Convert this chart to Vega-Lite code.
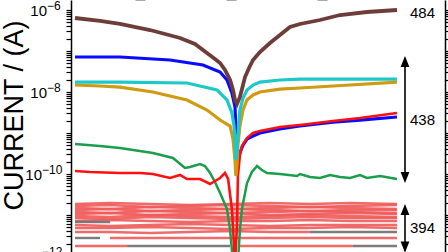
{
  "$schema": "https://vega.github.io/schema/vega-lite/v6.json",
  "width": 374,
  "height": 268,
  "autosize": {"type": "none"},
  "padding": {"left": 71, "top": 0, "right": 3, "bottom": 0},
  "background": "white",
  "config": {"view": {"stroke": null}, "font": "Liberation Sans"},
  "datasets": {
    "noise": [
      {"s":"n1","kind":"red","V":-0.857,"I":1.85e-11},{"s":"n1","kind":"red","V":-0.665,"I":1.96e-11},{"s":"n1","kind":"red","V":-0.445,"I":1.85e-11},{"s":"n1","kind":"red","V":-0.225,"I":1.75e-11},{"s":"n1","kind":"red","V":-0.005,"I":1.85e-11},{"s":"n1","kind":"red","V":0.214,"I":1.96e-11},{"s":"n1","kind":"red","V":0.434,"I":1.85e-11},{"s":"n1","kind":"red","V":0.654,"I":1.96e-11},{"s":"n1","kind":"red","V":0.912,"I":1.85e-11},
      {"s":"n2","kind":"red","V":-0.857,"I":1.66e-11},{"s":"n2","kind":"red","V":-0.665,"I":1.75e-11},{"s":"n2","kind":"red","V":-0.445,"I":1.57e-11},{"s":"n2","kind":"red","V":-0.225,"I":1.66e-11},{"s":"n2","kind":"red","V":-0.005,"I":1.75e-11},{"s":"n2","kind":"red","V":0.214,"I":1.66e-11},{"s":"n2","kind":"red","V":0.434,"I":1.57e-11},{"s":"n2","kind":"red","V":0.654,"I":1.66e-11},{"s":"n2","kind":"red","V":0.912,"I":1.75e-11},
      {"s":"n3","kind":"red","V":-0.857,"I":1.48e-11},{"s":"n3","kind":"red","V":-0.665,"I":1.40e-11},{"s":"n3","kind":"red","V":-0.445,"I":1.57e-11},{"s":"n3","kind":"red","V":-0.225,"I":1.48e-11},{"s":"n3","kind":"red","V":-0.005,"I":1.40e-11},{"s":"n3","kind":"red","V":0.214,"I":1.48e-11},{"s":"n3","kind":"red","V":0.434,"I":1.57e-11},{"s":"n3","kind":"red","V":0.654,"I":1.48e-11},{"s":"n3","kind":"red","V":0.912,"I":1.40e-11},
      {"s":"n4","kind":"red","V":-0.857,"I":1.32e-11},{"s":"n4","kind":"red","V":-0.665,"I":1.40e-11},{"s":"n4","kind":"red","V":-0.445,"I":1.25e-11},{"s":"n4","kind":"red","V":-0.225,"I":1.32e-11},{"s":"n4","kind":"red","V":-0.005,"I":1.40e-11},{"s":"n4","kind":"red","V":0.214,"I":1.32e-11},{"s":"n4","kind":"red","V":0.434,"I":1.25e-11},{"s":"n4","kind":"red","V":0.654,"I":1.32e-11},{"s":"n4","kind":"red","V":0.912,"I":1.32e-11},
      {"s":"n5","kind":"red","V":-0.857,"I":1.18e-11},{"s":"n5","kind":"red","V":-0.665,"I":1.12e-11},{"s":"n5","kind":"red","V":-0.445,"I":1.25e-11},{"s":"n5","kind":"red","V":-0.225,"I":1.18e-11},{"s":"n5","kind":"red","V":-0.005,"I":1.12e-11},{"s":"n5","kind":"red","V":0.214,"I":1.18e-11},{"s":"n5","kind":"red","V":0.434,"I":1.25e-11},{"s":"n5","kind":"red","V":0.654,"I":1.18e-11},{"s":"n5","kind":"red","V":0.912,"I":1.12e-11},
      {"s":"n6","kind":"red","V":-0.857,"I":1.06e-11},{"s":"n6","kind":"red","V":-0.665,"I":1.12e-11},{"s":"n6","kind":"red","V":-0.445,"I":1.0e-11},{"s":"n6","kind":"red","V":-0.225,"I":1.06e-11},{"s":"n6","kind":"red","V":-0.005,"I":1.12e-11},{"s":"n6","kind":"red","V":0.214,"I":1.0e-11},{"s":"n6","kind":"red","V":0.434,"I":1.06e-11},{"s":"n6","kind":"red","V":0.654,"I":1.12e-11},{"s":"n6","kind":"red","V":0.912,"I":1.06e-11},
      {"s":"n7","kind":"red","V":-0.857,"I":9.46e-12},{"s":"n7","kind":"red","V":-0.665,"I":8.94e-12},{"s":"n7","kind":"red","V":-0.445,"I":1.0e-11},{"s":"n7","kind":"red","V":-0.225,"I":9.46e-12},{"s":"n7","kind":"red","V":-0.005,"I":8.94e-12},{"s":"n7","kind":"red","V":0.214,"I":9.46e-12},{"s":"n7","kind":"red","V":0.434,"I":1.0e-11},{"s":"n7","kind":"red","V":0.654,"I":9.46e-12},{"s":"n7","kind":"red","V":0.912,"I":8.94e-12},
      {"s":"n8","kind":"red","V":-0.857,"I":8.45e-12},{"s":"n8","kind":"red","V":-0.665,"I":7.98e-12},{"s":"n8","kind":"red","V":-0.445,"I":8.94e-12},{"s":"n8","kind":"red","V":-0.225,"I":8.45e-12},{"s":"n8","kind":"red","V":-0.005,"I":7.98e-12},{"s":"n8","kind":"red","V":0.214,"I":8.45e-12},{"s":"n8","kind":"red","V":0.434,"I":8.94e-12},{"s":"n8","kind":"red","V":0.654,"I":8.45e-12},{"s":"n8","kind":"red","V":0.912,"I":8.45e-12},
      {"s":"n9","kind":"red","V":-0.857,"I":7.14e-12},{"s":"n9","kind":"red","V":-0.665,"I":7.55e-12},{"s":"n9","kind":"red","V":-0.445,"I":7.14e-12},{"s":"n9","kind":"red","V":-0.225,"I":6.75e-12},{"s":"n9","kind":"red","V":-0.005,"I":7.14e-12},{"s":"n9","kind":"red","V":0.214,"I":7.14e-12},{"s":"n9","kind":"red","V":0.434,"I":7.55e-12},{"s":"n9","kind":"red","V":0.654,"I":7.14e-12},{"s":"n9","kind":"red","V":0.912,"I":7.14e-12},
      {"s":"n10","kind":"red","V":-0.857,"I":5.70e-12},{"s":"n10","kind":"red","V":-0.665,"I":5.40e-12},{"s":"n10","kind":"red","V":-0.445,"I":5.70e-12},{"s":"n10","kind":"red","V":-0.225,"I":6.03e-12},{"s":"n10","kind":"red","V":-0.005,"I":5.70e-12},{"s":"n10","kind":"red","V":0.214,"I":5.40e-12},{"s":"n10","kind":"red","V":0.434,"I":5.70e-12},{"s":"n10","kind":"red","V":0.654,"I":5.70e-12},{"s":"n10","kind":"red","V":0.912,"I":5.70e-12},
      {"s":"n11","kind":"red","V":-0.857,"I":4.82e-12},{"s":"n11","kind":"red","V":-0.665,"I":4.82e-12},{"s":"n11","kind":"red","V":-0.445,"I":5.09e-12},{"s":"n11","kind":"red","V":-0.225,"I":4.82e-12},{"s":"n11","kind":"red","V":-0.005,"I":4.56e-12},{"s":"n11","kind":"red","V":0.214,"I":4.82e-12},{"s":"n11","kind":"red","V":0.434,"I":4.82e-12},{"s":"n11","kind":"red","V":0.654,"I":5.09e-12},{"s":"n11","kind":"red","V":0.912,"I":4.82e-12},
      {"s":"n12","kind":"red","V":-0.857,"I":3.85e-12},{"s":"n12","kind":"red","V":-0.665,"I":3.85e-12},{"s":"n12","kind":"red","V":-0.445,"I":3.64e-12},{"s":"n12","kind":"red","V":-0.225,"I":3.85e-12},{"s":"n12","kind":"red","V":-0.005,"I":4.07e-12},{"s":"n12","kind":"red","V":0.214,"I":3.85e-12},{"s":"n12","kind":"red","V":0.434,"I":3.85e-12},
      {"s":"g2","kind":"grey","V":0.434,"I":3.85e-12},{"s":"g2","kind":"grey","V":0.654,"I":3.85e-12},{"s":"g2","kind":"grey","V":0.912,"I":3.85e-12},
      {"s":"g1","kind":"grey","V":-0.857,"I":6.75e-12},{"s":"g1","kind":"grey","V":-0.665,"I":6.75e-12},
      {"s":"n13","kind":"red","V":-0.665,"I":2.75e-12},{"s":"n13","kind":"red","V":-0.225,"I":2.75e-12},{"s":"n13","kind":"red","V":0.214,"I":2.75e-12},{"s":"n13","kind":"red","V":0.912,"I":2.75e-12},
      {"s":"g3","kind":"grey","V":-0.857,"I":2.75e-12},{"s":"g3","kind":"grey","V":-0.720,"I":2.75e-12},
      {"s":"n14","kind":"red","V":-0.857,"I":1.75e-12},{"s":"n14","kind":"red","V":-0.571,"I":1.75e-12},
      {"s":"g4","kind":"grey","V":-0.571,"I":1.75e-12},{"s":"g4","kind":"grey","V":-0.225,"I":1.75e-12},{"s":"g4","kind":"grey","V":-0.005,"I":1.75e-12},
      {"s":"n15","kind":"red","V":0.049,"I":1.75e-12},{"s":"n15","kind":"red","V":0.434,"I":1.75e-12},{"s":"n15","kind":"red","V":0.670,"I":1.75e-12},
      {"s":"g5","kind":"grey","V":0.670,"I":1.75e-12},{"s":"g5","kind":"grey","V":0.912,"I":1.75e-12}
    ],
    "green": [
      {"V":-0.857,"I":5.40e-10},{"V":-0.720,"I":4.82e-10},{"V":-0.610,"I":4.31e-10},{"V":-0.429,"I":3.25e-10},{"V":-0.319,"I":2.46e-10},{"V":-0.253,"I":1.40e-10},{"V":-0.225,"I":1.48e-10},{"V":-0.170,"I":1.75e-10},{"V":-0.143,"I":1.57e-10},{"V":-0.115,"I":1.06e-10},{"V":-0.088,"I":6.38e-11},{"V":-0.060,"I":3.44e-11},{"V":-0.022,"I":1.40e-11},{"V":-0.005,"I":4.31e-12},{"V":0.011,"I":7.14e-13},{"V":0.027,"I":6.03e-13},{"V":0.038,"I":7.14e-13},{"V":0.049,"I":4.31e-12},{"V":0.060,"I":1.40e-11},{"V":0.088,"I":6.03e-11},{"V":0.115,"I":1.12e-10},{"V":0.143,"I":1.57e-10},{"V":0.170,"I":1.25e-10},{"V":0.198,"I":1.06e-10},{"V":0.269,"I":1.0e-10},{"V":0.363,"I":8.94e-11},{"V":0.379,"I":1.0e-10},{"V":0.434,"I":8.45e-11},{"V":0.489,"I":7.98e-11},{"V":0.544,"I":9.46e-11},{"V":0.599,"I":8.45e-11},{"V":0.654,"I":7.98e-11},{"V":0.709,"I":9.46e-11},{"V":0.747,"I":7.98e-11},{"V":0.819,"I":8.94e-11},{"V":0.912,"I":7.55e-11}
    ],
    "blue": [
      {"V":-0.857,"I":7.14e-8},{"V":-0.610,"I":7.14e-8},{"V":-0.335,"I":6.03e-8},{"V":-0.154,"I":4.56e-8},{"V":-0.060,"I":3.08e-8},{"V":-0.022,"I":1.96e-8},{"V":0.005,"I":9.46e-9},{"V":0.022,"I":4.31e-9},{"V":0.027,"I":1.18e-9},{"V":0.033,"I":1.66e-10},{"V":0.038,"I":2.19e-10},{"V":0.049,"I":3.25e-10},{"V":0.066,"I":5.09e-10},{"V":0.088,"I":7.14e-10},{"V":0.121,"I":8.45e-10},{"V":0.159,"I":1.0e-9},{"V":0.269,"I":1.25e-9},{"V":0.379,"I":1.48e-9},{"V":0.560,"I":1.85e-9},{"V":0.709,"I":2.07e-9},{"V":0.912,"I":2.46e-9}
    ],
    "red": [
      {"V":-0.857,"I":1.18e-10},{"V":-0.775,"I":1.12e-10},{"V":-0.610,"I":1.06e-10},{"V":-0.500,"I":1.06e-10},{"V":-0.429,"I":1.0e-10},{"V":-0.335,"I":7.98e-11},{"V":-0.280,"I":9.46e-11},{"V":-0.242,"I":7.55e-11},{"V":-0.170,"I":7.55e-11},{"V":-0.115,"I":5.70e-11},{"V":-0.088,"I":6.75e-11},{"V":-0.060,"I":7.98e-11},{"V":-0.033,"I":1.06e-10},{"V":-0.016,"I":7.55e-11},{"V":0.005,"I":1.40e-11},{"V":0.022,"I":7.14e-13},{"V":0.033,"I":5.40e-12},{"V":0.038,"I":8.94e-11},{"V":0.049,"I":2.90e-10},{"V":0.060,"I":4.82e-10},{"V":0.088,"I":7.55e-10},{"V":0.121,"I":1.0e-9},{"V":0.159,"I":1.12e-9},{"V":0.269,"I":1.40e-9},{"V":0.379,"I":1.57e-9},{"V":0.560,"I":1.96e-9},{"V":0.709,"I":2.32e-9},{"V":0.912,"I":3.08e-9}
    ],
    "gold": [
      {"V":-0.857,"I":1.48e-8},{"V":-0.720,"I":1.40e-8},{"V":-0.610,"I":1.32e-8},{"V":-0.429,"I":1.0e-8},{"V":-0.242,"I":6.38e-9},{"V":-0.132,"I":3.64e-9},{"V":-0.060,"I":2.07e-9},{"V":-0.005,"I":1.48e-9},{"V":0.011,"I":7.14e-10},{"V":0.022,"I":2.19e-10},{"V":0.027,"I":8.94e-11},{"V":0.033,"I":1.66e-10},{"V":0.038,"I":5.09e-10},{"V":0.049,"I":1.48e-9},{"V":0.066,"I":3.64e-9},{"V":0.088,"I":6.38e-9},{"V":0.121,"I":8.45e-9},{"V":0.159,"I":1.0e-8},{"V":0.269,"I":1.18e-8},{"V":0.379,"I":1.25e-8},{"V":0.654,"I":1.48e-8},{"V":0.912,"I":1.75e-8}
    ],
    "cyan": [
      {"V":-0.857,"I":1.75e-8},{"V":-0.610,"I":1.75e-8},{"V":-0.242,"I":1.66e-8},{"V":-0.077,"I":1.12e-8},{"V":-0.022,"I":6.38e-9},{"V":0.005,"I":3.08e-9},{"V":0.016,"I":1.57e-9},{"V":0.022,"I":6.75e-10},{"V":0.027,"I":2.19e-10},{"V":0.033,"I":3.85e-10},{"V":0.038,"I":8.94e-10},{"V":0.049,"I":3.64e-9},{"V":0.066,"I":7.14e-9},{"V":0.088,"I":1.12e-8},{"V":0.121,"I":1.48e-8},{"V":0.159,"I":1.75e-8},{"V":0.269,"I":1.96e-8},{"V":0.379,"I":2.07e-8},{"V":0.912,"I":2.07e-8}
    ],
    "brown": [
      {"V":-0.857,"I":6.38e-7},{"V":-0.720,"I":5.40e-7},{"V":-0.610,"I":4.56e-7},{"V":-0.445,"I":3.25e-7},{"V":-0.280,"I":2.08e-7},{"V":-0.198,"I":1.48e-7},{"V":-0.132,"I":8.93e-8},{"V":-0.088,"I":6.38e-8},{"V":-0.060,"I":5.09e-8},{"V":-0.033,"I":3.44e-8},{"V":-0.005,"I":1.96e-8},{"V":0.011,"I":1.12e-8},{"V":0.022,"I":6.38e-9},{"V":0.033,"I":5.09e-9},{"V":0.049,"I":7.55e-9},{"V":0.066,"I":1.48e-8},{"V":0.077,"I":2.32e-8},{"V":0.099,"I":3.85e-8},{"V":0.121,"I":6.03e-8},{"V":0.159,"I":9.46e-8},{"V":0.214,"I":1.57e-7},{"V":0.269,"I":2.46e-7},{"V":0.324,"I":3.85e-7},{"V":0.379,"I":4.56e-7},{"V":0.489,"I":5.70e-7},{"V":0.599,"I":7.55e-7},{"V":0.747,"I":8.94e-7},{"V":0.912,"I":1.0e-6}
    ],
    "shafts": [
      {"V":0.956,"I":5.40e-8,"I2":8.45e-11},
      {"V":0.956,"I":1.36e-11,"I2":1.3e-12}
    ],
    "heads": [
      {"V":0.956,"I":5.55e-8,"dir":"up"},
      {"V":0.956,"I":8.22e-11,"dir":"down"},
      {"V":0.956,"I":1.36e-11,"dir":"up"},
      {"V":0.956,"I":1.66e-12,"dir":"down"}
    ],
    "labels": [
      {"V":1.052,"I":8.45e-7,"label":"484"},
      {"V":1.052,"I":2.02e-9,"label":"438"},
      {"V":1.052,"I":4.69e-12,"label":"394"}
    ],
    "ticklabels": [
      {"V":-1.011,"I":1e-6,"base":"10","exp":"−6"},
      {"V":-1.011,"I":1e-8,"base":"10","exp":"−8"},
      {"V":-1.011,"I":1e-10,"base":"10","exp":"−10"},
      {"V":-1.011,"I":1e-12,"base":"10","exp":"−12"}
    ]
  },
  "layer": [
    {
      "data": {"name": "noise"},
      "mark": {"type": "line", "strokeWidth": 2.4, "opacity": 0.9, "clip": true},
      "encoding": {
        "x": {"field": "V", "type": "quantitative",
              "scale": {"domain": [-0.8791, 1.1758], "nice": false, "zero": false},
              "axis": {"orient": "top", "title": null, "labels": false, "domain": false, "grid": false,
                       "values": [-0.5, 0, 0.5], "tickColor": "#555555", "tickWidth": 10, "tickSize": 3,
                       "encode": {"ticks": {"y2": {"value": 2.5}}}}},
        "y": {"field": "I", "type": "quantitative",
              "scale": {"type": "log", "domain": [5.097e-13, 1.7536e-6], "nice": false},
              "axis": {"orient": "left", "grid": false, "labels": false,
                       "values": [1e-12,2e-12,3e-12,4e-12,5e-12,6e-12,7e-12,8e-12,9e-12,1e-11,2e-11,3e-11,4e-11,5e-11,6e-11,7e-11,8e-11,9e-11,1e-10,2e-10,3e-10,4e-10,5e-10,6e-10,7e-10,8e-10,9e-10,1e-9,2e-9,3e-9,4e-9,5e-9,6e-9,7e-9,8e-9,9e-9,1e-8,2e-8,3e-8,4e-8,5e-8,6e-8,7e-8,8e-8,9e-8,1e-7,2e-7,3e-7,4e-7,5e-7,6e-7,7e-7,8e-7,9e-7,1e-6],
                       "tickColor": "black", "tickWidth": 1.2, "tickSize": 5,
                       "encode": {
                         "ticks": {"x2": {"condition": {"test": "abs(log(datum.value)/LN10 - round(log(datum.value)/LN10)) < 0.001", "value": -5}, "value": -2.5}}
                       },
                       "domainColor": "black", "domainWidth": 1.5,
                       "title": "CURRENT / (A)", "titleFont": "Liberation Sans", "titleFontSize": 27, "titleFontWeight": "normal",
                       "titleColor": "black", "titleX": -57, "titleY": 115, "titleAngle": -90, "titleAlign": "center", "titleBaseline": "middle"}},
        "detail": {"field": "s", "type": "nominal"},
        "color": {"field": "kind", "type": "nominal", "scale": {"domain": ["red", "grey"], "range": ["#f05a5a", "#6e6e6e"]}, "legend": null}
      }
    },
    {
      "data": {"name": "green"},
      "mark": {"type": "line", "strokeWidth": 2.5, "color": "#1a9e4c", "clip": true},
      "encoding": {"x": {"field": "V", "type": "quantitative"}, "y": {"field": "I", "type": "quantitative", "axis": null}}
    },
    {
      "data": {"name": "blue"},
      "mark": {"type": "line", "strokeWidth": 3.2, "color": "#0a0aff", "clip": true},
      "encoding": {"x": {"field": "V", "type": "quantitative"}, "y": {"field": "I", "type": "quantitative", "axis": null}}
    },
    {
      "data": {"name": "red"},
      "mark": {"type": "line", "strokeWidth": 2.6, "color": "#ff1010", "clip": true},
      "encoding": {"x": {"field": "V", "type": "quantitative"}, "y": {"field": "I", "type": "quantitative", "axis": null}}
    },
    {
      "data": {"name": "gold"},
      "mark": {"type": "line", "strokeWidth": 3.2, "color": "#d09a12", "clip": true},
      "encoding": {"x": {"field": "V", "type": "quantitative"}, "y": {"field": "I", "type": "quantitative", "axis": null}}
    },
    {
      "data": {"name": "cyan"},
      "mark": {"type": "line", "strokeWidth": 3.2, "color": "#1cc8c8", "clip": true},
      "encoding": {"x": {"field": "V", "type": "quantitative"}, "y": {"field": "I", "type": "quantitative", "axis": null}}
    },
    {
      "data": {"name": "brown"},
      "mark": {"type": "line", "strokeWidth": 3.8, "color": "#6e3d3a", "clip": true},
      "encoding": {
        "x": {"field": "V", "type": "quantitative"},
        "y": {"field": "I", "type": "quantitative",
              "axis": {"orient": "right", "grid": false, "labels": false, "title": null,
                       "values": [1e-12,2e-12,3e-12,4e-12,5e-12,6e-12,7e-12,8e-12,9e-12,1e-11,2e-11,3e-11,4e-11,5e-11,6e-11,7e-11,8e-11,9e-11,1e-10,2e-10,3e-10,4e-10,5e-10,6e-10,7e-10,8e-10,9e-10,1e-9,2e-9,3e-9,4e-9,5e-9,6e-9,7e-9,8e-9,9e-9,1e-8,2e-8,3e-8,4e-8,5e-8,6e-8,7e-8,8e-8,9e-8,1e-7,2e-7,3e-7,4e-7,5e-7,6e-7,7e-7,8e-7,9e-7,1e-6],
                       "tickColor": "black", "tickWidth": 1.2, "tickSize": 4.5,
                       "encode": {"ticks": {"x2": {"condition": {"test": "abs(log(datum.value)/LN10 - round(log(datum.value)/LN10)) < 0.001", "value": -4.5}, "value": -2.3}}},
                       "domainColor": "black", "domainWidth": 1.5}}
      }
    },
    {
      "data": {"name": "shafts"},
      "mark": {"type": "rule", "strokeWidth": 1.6, "color": "black"},
      "encoding": {"x": {"field": "V", "type": "quantitative"}, "y": {"field": "I", "type": "quantitative", "axis": null}, "y2": {"field": "I2"}}
    },
    {
      "data": {"name": "heads"},
      "mark": {"type": "point", "filled": true, "color": "black", "opacity": 1, "size": 121},
      "encoding": {
        "x": {"field": "V", "type": "quantitative"},
        "y": {"field": "I", "type": "quantitative", "axis": null},
        "shape": {"field": "dir", "type": "nominal", "scale": {"domain": ["up", "down"], "range": ["M0,-1L0.8,1L-0.8,1Z", "M0,1L0.8,-1L-0.8,-1Z"]}, "legend": null}
      }
    },
    {
      "data": {"name": "labels"},
      "mark": {"type": "text", "fontSize": 15, "font": "Liberation Sans", "color": "black", "align": "center", "baseline": "middle"},
      "encoding": {
        "x": {"field": "V", "type": "quantitative"},
        "y": {"field": "I", "type": "quantitative", "axis": null},
        "text": {"field": "label", "type": "nominal"}
      }
    },
    {
      "data": {"name": "ticklabels"},
      "mark": {"type": "text", "fontSize": 15, "font": "Liberation Sans", "color": "black", "align": "right", "baseline": "middle", "dy": 1,
               "dx": {"expr": "length(datum.exp) > 2 ? -5 : 0"}},
      "encoding": {
        "x": {"field": "V", "type": "quantitative"},
        "y": {"field": "I", "type": "quantitative", "axis": null},
        "text": {"field": "base", "type": "nominal"}
      }
    },
    {
      "data": {"name": "ticklabels"},
      "mark": {"type": "text", "fontSize": 12, "font": "Liberation Sans", "color": "black", "align": "left", "baseline": "middle", "dy": -4,
               "dx": {"expr": "length(datum.exp) > 2 ? -5 : 0"}},
      "encoding": {
        "x": {"field": "V", "type": "quantitative"},
        "y": {"field": "I", "type": "quantitative", "axis": null},
        "text": {"field": "exp", "type": "nominal"}
      }
    }
  ],
  "resolve": {"axis": {"y": "independent"}}
}
